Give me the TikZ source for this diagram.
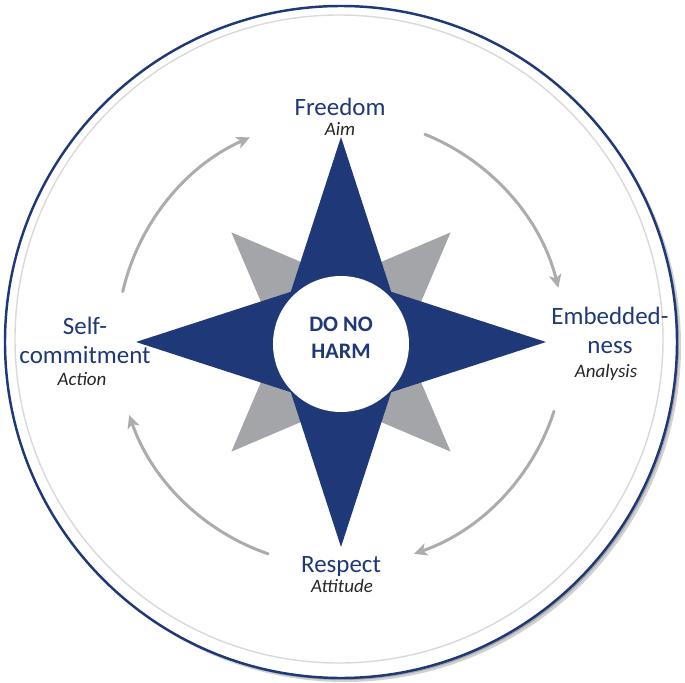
\documentclass[tikz,border=0pt]{standalone}
\usepackage{fontspec}
\setmainfont{Carlito}
\usetikzlibrary{arrows.meta}
\definecolor{navy}{RGB}{31,56,120}
\definecolor{stargray}{RGB}{163,165,168}
\definecolor{cycgray}{RGB}{170,172,174}
\tikzset{
  lab/.style={text=navy, font=\fontsize{14.2}{16}\selectfont, align=center, anchor=base, inner sep=0pt},
  sub/.style={text=black!85, font=\fontsize{10.8}{12}\selectfont\itshape, anchor=base, inner sep=0pt},
  core/.style={text=navy, font=\bfseries\fontsize{12.6}{15}\selectfont, align=center, anchor=base, inner sep=0pt},
  cyc/.style={draw=cycgray, line width=1.7pt, ->},
}
\begin{document}
\begin{tikzpicture}[scale=0.02, line join=round, line cap=round, >={Stealth[length=7.5pt, width=7pt, inset=2pt]}]
	\useasboundingbox (-341,-340) rectangle (344,342);
	\def\R{336} % outer disc
	\def\rc{68} % inner disc
	\def\ra{224} % cycle arrows
	
	% outer disc: shadow, navy rim, thin inner ring
	\fill[black!18] (4,-4) circle (\R);
	\fill[black!35] (2,-2) circle (\R);
	\draw[navy, line width=1.4pt, fill=white] (0,0) circle (\R);
	\draw[black!15, line width=0.8pt] (-2,3) circle (324);
	
	% gray star, then blue star
	\fill[stargray] (45:155)--(90:63)--(135:155)--(180:63)--(225:155)--(270:63)--(315:155)--(0:63)--cycle;
	\fill[navy] (0:205)--(45:71)--(90:205)--(135:71)--(180:205)--(225:71)--(270:205)--(315:71)--cycle;
	\fill[white] (0,-2) circle (\rc);
	\node[core] (harm) at (0,-16) {DO NO\\HARM};
	
	\node[lab] (free) at (-1,227) {Freedom};
	\node[sub] (aim) at (-1,207) {Aim};
	\node[lab] (embed) at (269,-11) {Embedded-\\ness};
	\node[sub] (ana) at (265,-35) {Analysis};
	\node[lab] (resp) at (0,-230) {Respect};
	\node[sub] (att) at (1,-250) {Attitude};
	\node[lab] (self) at (-256,-21) {Self-\\commitment};
	\node[sub] (act) at (-259,-43) {Action};
	
	\foreach \a/\b in {167/114,68/14,-18/-71,-109/-161}\draw[cyc] (\a:\ra) arc[start angle=\a, end angle=\b, radius=\ra];
\end{tikzpicture}
\end{document}
